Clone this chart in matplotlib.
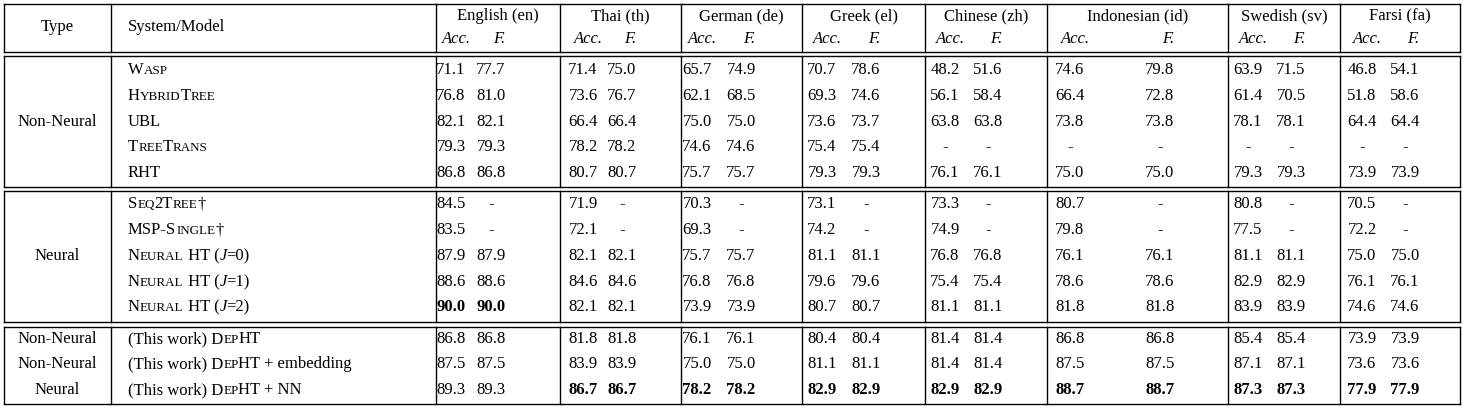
import matplotlib
matplotlib.use('Agg')
import matplotlib.pyplot as plt

# table content
langs = ['English (en)', 'Thai (th)', 'German (de)', 'Greek (el)', 'Chinese (zh)',
         'Indonesian (id)', 'Swedish (sv)', 'Farsi (fa)']
types = ['Non-Neural', 'Neural', 'Non-Neural', 'Non-Neural', 'Neural']
# system names as (text, style) runs: n normal, s small caps, i italic
systems = [
    [('W', 'n'), ('ASP', 's')],
    [('H', 'n'), ('YBRID', 's'), ('T', 'n'), ('REE', 's')],
    [('UBL', 'n')],
    [('T', 'n'), ('REE', 's'), ('T', 'n'), ('RANS', 's')],
    [('RHT', 'n')],
    [('S', 'n'), ('EQ', 's'), ('2T', 'n'), ('REE', 's'), ('†', 'n')],
    [('MSP-S', 'n'), ('INGLE', 's'), ('†', 'n')],
    [('N', 'n'), ('EURAL', 's'), (' HT (', 'n'), ('J', 'i'), ('=0)', 'n')],
    [('N', 'n'), ('EURAL', 's'), (' HT (', 'n'), ('J', 'i'), ('=1)', 'n')],
    [('N', 'n'), ('EURAL', 's'), (' HT (', 'n'), ('J', 'i'), ('=2)', 'n')],
    [('(This work) D', 'n'), ('EP', 's'), ('HT', 'n')],
    [('(This work) D', 'n'), ('EP', 's'), ('HT + embedding', 'n')],
    [('(This work) D', 'n'), ('EP', 's'), ('HT + NN', 'n')],
]
acc = {
    'en': ['71.1', '76.8', '82.1', '79.3', '86.8', '84.5', '83.5', '87.9', '88.6', '90.0', '86.8', '87.5', '89.3'],
    'th': ['71.4', '73.6', '66.4', '78.2', '80.7', '71.9', '72.1', '82.1', '84.6', '82.1', '81.8', '83.9', '86.7'],
    'de': ['65.7', '62.1', '75.0', '74.6', '75.7', '70.3', '69.3', '75.7', '76.8', '73.9', '76.1', '75.0', '78.2'],
    'el': ['70.7', '69.3', '73.6', '75.4', '79.3', '73.1', '74.2', '81.1', '79.6', '80.7', '80.4', '81.1', '82.9'],
    'zh': ['48.2', '56.1', '63.8', '-', '76.1', '73.3', '74.9', '76.8', '75.4', '81.1', '81.4', '81.4', '82.9'],
    'id': ['74.6', '66.4', '73.8', '-', '75.0', '80.7', '79.8', '76.1', '78.6', '81.8', '86.8', '87.5', '88.7'],
    'sv': ['63.9', '61.4', '78.1', '-', '79.3', '80.8', '77.5', '81.1', '82.9', '83.9', '85.4', '87.1', '87.3'],
    'fa': ['46.8', '51.8', '64.4', '-', '73.9', '70.5', '72.2', '75.0', '76.1', '74.6', '73.9', '73.6', '77.9'],
}
fsc = {
    'en': ['77.7', '81.0', '82.1', '79.3', '86.8', '-', '-', '87.9', '88.6', '90.0', '86.8', '87.5', '89.3'],
    'th': ['75.0', '76.7', '66.4', '78.2', '80.7', '-', '-', '82.1', '84.6', '82.1', '81.8', '83.9', '86.7'],
    'de': ['74.9', '68.5', '75.0', '74.6', '75.7', '-', '-', '75.7', '76.8', '73.9', '76.1', '75.0', '78.2'],
    'el': ['78.6', '74.6', '73.7', '75.4', '79.3', '-', '-', '81.1', '79.6', '80.7', '80.4', '81.1', '82.9'],
    'zh': ['51.6', '58.4', '63.8', '-', '76.1', '-', '-', '76.8', '75.4', '81.1', '81.4', '81.4', '82.9'],
    'id': ['79.8', '72.8', '73.8', '-', '75.0', '-', '-', '76.1', '78.6', '81.8', '86.8', '87.5', '88.7'],
    'sv': ['71.5', '70.5', '78.1', '-', '79.3', '-', '-', '81.1', '82.9', '83.9', '85.4', '87.1', '87.3'],
    'fa': ['54.1', '58.6', '64.4', '-', '73.9', '-', '-', '75.0', '76.1', '74.6', '73.9', '73.6', '77.9'],
}
codes = ['en', 'th', 'de', 'el', 'zh', 'id', 'sv', 'fa']
# bold cells: (row, lang)
bold = {(9, 'en')} | {(12, c) for c in codes if c != 'en'}

# layout in pixels
W, H = 1464, 408
vlines = [4, 111, 436, 560, 681, 802, 925, 1047, 1228, 1340, 1460]
acc_x = [451, 583, 697, 822, 945, 1070, 1248, 1362]
f_x = [491, 622, 741, 866, 988, 1160, 1291, 1405]
row_y = [70, 96, 122, 147, 173, 204, 230, 256, 282, 307, 339, 364, 390]
blocks = [(4, 52), (56, 187), (191, 322), (327, 404)]
FS = 12
FAM = 'Liberation Serif'

fig = plt.figure(figsize=(W / 100, H / 100), dpi=100)
ax = fig.add_axes([0, 0, 1, 1])
ax.set_xlim(0, W)
ax.set_ylim(H, 0)
ax.axis('off')

for top, bot in blocks:
    ax.plot([4, 1460], [top, top], color='black', lw=1)
    ax.plot([4, 1460], [bot, bot], color='black', lw=1)
    for x in vlines:
        ax.plot([x, x], [top, bot], color='black', lw=1)

def txt(x, y, s, ha='center', **kw):
    ax.text(x, y, s, ha=ha, va='center', fontsize=FS, family=FAM, **kw)

# header
txt(57, 27, 'Type')
txt(128, 27, 'System/Model', ha='left')
for i, lang in enumerate(langs):
    cx = (vlines[i + 2] + vlines[i + 3]) / 2
    txt(cx, 16, lang)
    txt(acc_x[i] + 5, 39, 'Acc.', style='italic')
    txt(f_x[i] + 8, 39, 'F.', style='italic')

# type column
txt(57, row_y[2], types[0])
txt(57, row_y[7], types[1])
for k in range(3):
    txt(57, row_y[10 + k], types[2 + k])

fig.canvas.draw()
renderer = fig.canvas.get_renderer()
inv = ax.transData.inverted()

def draw_runs(x, y, runs):
    for s, st in runs:
        kw = {}
        size = FS
        if st == 's':
            size = FS * 0.78
        if st == 'i':
            kw['style'] = 'italic'
        t = ax.text(x, y + (1.2 if st == 's' else 0), s, ha='left', va='center',
                    fontsize=size, family=FAM, **kw)
        bb = t.get_window_extent(renderer)
        x = inv.transform((bb.x1, bb.y0))[0]

for r, runs in enumerate(systems):
    draw_runs(128, row_y[r], runs)

for i, c in enumerate(codes):
    for r in range(len(row_y)):
        w = 'bold' if (r, c) in bold else 'normal'
        txt(acc_x[i], row_y[r], acc[c][r], weight=w)
        txt(f_x[i], row_y[r], fsc[c][r], weight=w)

fig.savefig('out.png', dpi=100)
